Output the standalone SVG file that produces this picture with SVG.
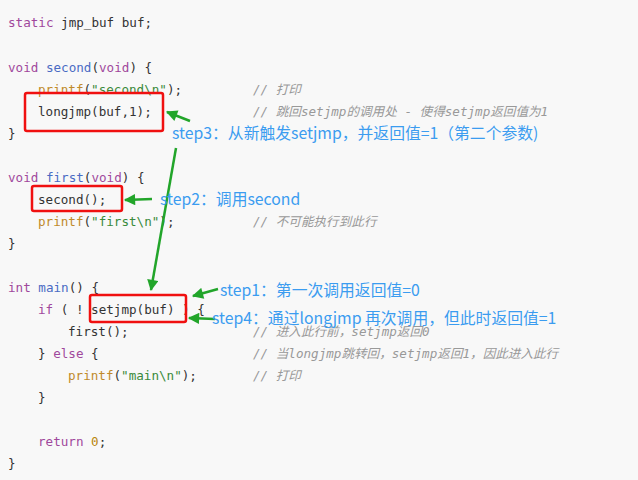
<svg xmlns="http://www.w3.org/2000/svg" width="638" height="480" viewBox="0 0 638 480">
<defs>
<style>
.c{font-family:"DejaVu Sans Mono","Noto Sans CJK SC",monospace;font-size:12.6px;fill:#333;white-space:pre}
.k{fill:#a0489c}.f{fill:#4a6bc4}.s{fill:#3a8a3a}.p{fill:#c08a2a}.n{fill:#b8860b}
.m{fill:#999;font-style:italic}
.b{fill:none;stroke:#f01010;stroke-width:2.5}
.a{stroke:#22a52a;stroke-width:2.5;fill:none}
.t{font-family:"Noto Sans CJK SC","Liberation Sans",sans-serif;font-size:15.8px;fill:#3b9cf0}
</style>
<marker id="h" viewBox="0 0 10 10" refX="9" refY="5" markerWidth="5" markerHeight="4.5" orient="auto"><path d="M0,0L10,5L0,10z" fill="#22a52a"/></marker>
</defs>
<rect width="638" height="480" fill="#f8f8f8"/>
<g id="code">
<text class="c" x="8" y="27"><tspan class="k">static</tspan> jmp_buf buf;</text>
<text class="c" x="8" y="72"><tspan class="k">void</tspan> <tspan class="f">second</tspan>(<tspan class="k">void</tspan>) {</text>
<text class="c" x="38" y="94"><tspan class="p">printf</tspan>(<tspan class="s">"second\n"</tspan>);</text>
<text class="c m" x="253" y="94">// 打印</text>
<text class="c" x="38" y="116">longjmp(buf,1);</text>
<text class="c m" x="253" y="116">// 跳回setjmp的调用处 - 使得setjmp返回值为1</text>
<text class="c" x="8" y="138">}</text>
<text class="c" x="8" y="182"><tspan class="k">void</tspan> <tspan class="f">first</tspan>(<tspan class="k">void</tspan>) {</text>
<text class="c" x="38" y="204">second();</text>
<text class="c" x="38" y="226"><tspan class="p">printf</tspan>(<tspan class="s">"first\n"</tspan>);</text>
<text class="c m" x="253" y="226">// 不可能执行到此行</text>
<text class="c" x="8" y="248">}</text>
<text class="c" x="8" y="292"><tspan class="k">int</tspan> <tspan class="f">main</tspan>() {</text>
<text class="c" x="38" y="314"><tspan class="k">if</tspan> ( ! setjmp(buf) ) {</text>
<text class="c" x="68" y="336">first();</text>
<text class="c m" x="253" y="336">// 进入此行前，setjmp返回0</text>
<text class="c" x="38" y="358">} <tspan class="k">else</tspan> {</text>
<text class="c m" x="253" y="358">// 当longjmp跳转回，setjmp返回1，因此进入此行</text>
<text class="c" x="68" y="380"><tspan class="p">printf</tspan>(<tspan class="s">"main\n"</tspan>);</text>
<text class="c m" x="253" y="380">// 打印</text>
<text class="c" x="38" y="402">}</text>
<text class="c" x="38" y="446"><tspan class="k">return</tspan> <tspan class="n">0</tspan>;</text>
<text class="c" x="8" y="468">}</text>
</g>
<g id="box-longjmp"><rect class="b" x="25" y="93" width="138" height="38" rx="2"/></g>
<g id="box-second"><rect class="b" x="32" y="186" width="90" height="25" rx="2"/></g>
<g id="box-setjmp"><rect class="b" x="90" y="295" width="96" height="27" rx="2"/></g>
<g id="connectors">
<line class="a" x1="190" y1="121" x2="167" y2="112" marker-end="url(#h)"/>
<line class="a" x1="176" y1="148" x2="151" y2="290" marker-end="url(#h)"/>
<line class="a" x1="152" y1="199" x2="125" y2="200" marker-end="url(#h)"/>
<line class="a" x1="218" y1="289" x2="193" y2="296" marker-end="url(#h)"/>
<line class="a" x1="215" y1="319" x2="189" y2="318" marker-end="url(#h)"/>
</g>
<g id="labels">
<text class="t" x="172" y="139">step3：从新触发setjmp，并返回值=1（第二个参数)</text>
<text class="t" x="160" y="205">step2：调用second</text>
<text class="t" x="220" y="296">step1：第一次调用返回值=0</text>
<text class="t" x="212" y="324">step4：通过longjmp 再次调用，但此时返回值=1</text>
</g>
</svg>
